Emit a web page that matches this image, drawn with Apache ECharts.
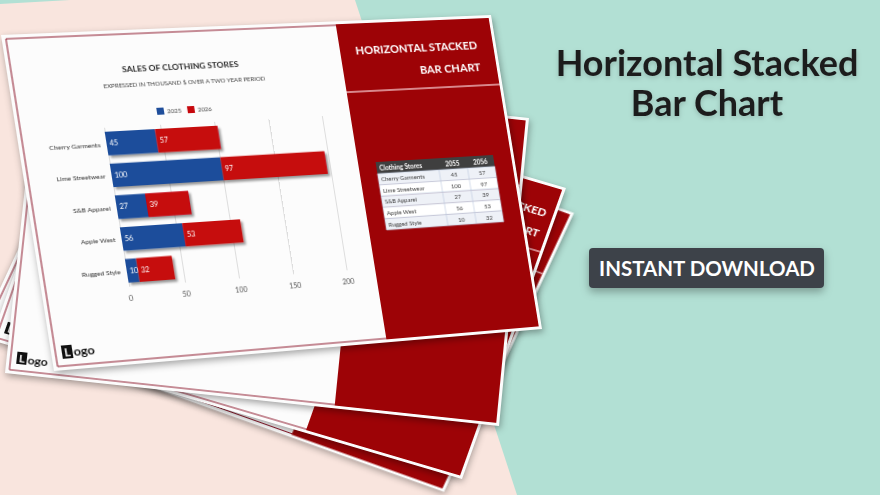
<!DOCTYPE html>
<html><head><meta charset="utf-8">
<script src="https://cdn.jsdelivr.net/npm/echarts@6/dist/echarts.min.js"></script>
<style>
html,body{margin:0;padding:0;width:880px;height:495px;overflow:hidden;background:#b2e0d4;}
#bg{position:absolute;left:0;top:0;width:880px;height:495px;}
.slide{position:absolute;left:0;top:0;width:490px;height:330px;transform-origin:0 0;background:#fcfcfc;box-shadow:1px 3px 7px rgba(0,0,0,0.35);}
</style></head><body>
<div id="bg"></div>
<div id="sD" class="slide"></div>
<div id="sC" class="slide"></div>
<div id="sB" class="slide"></div>
<div id="sA" class="slide"></div>
<script>
// ---- data ----
const categories = ['Cherry Garments', 'Lime Streetwear', 'S&B Apparel', 'Apple West', 'Rugged Style'];
const seriesNames = ['2025', '2026'];
const sales2025 = [45, 100, 27, 56, 10];
const sales2026 = [57, 97, 39, 53, 32];
const tableHeaders = ['Clothing Stores', '2055', '2056'];
const axisMin = 0, axisMax = 200, axisStep = 50;
const chartTitle = 'SALES OF CLOTHING STORES';
const chartSubtitle = 'EXPRESSED IN THOUSAND $ OVER A TWO YEAR PERIOD';
const panelTitle = ['HORIZONTAL STACKED', 'BAR CHART'];
const pageTitle = ['Horizontal Stacked', 'Bar Chart'];
const buttonText = 'INSTANT DOWNLOAD';

// ---- perspective helper (unit square -> quad) ----
function quadMatrix(q, W, H) {
  const [x0, y0] = q[0], [x1, y1] = q[1], [x2, y2] = q[2], [x3, y3] = q[3];
  const dx1 = x1 - x2, dx2 = x3 - x2, dx3 = x0 - x1 + x2 - x3;
  const dy1 = y1 - y2, dy2 = y3 - y2, dy3 = y0 - y1 + y2 - y3;
  const den = dx1 * dy2 - dx2 * dy1;
  const g = (dx3 * dy2 - dx2 * dy3) / den, h = (dx1 * dy3 - dx3 * dy1) / den;
  const a = x1 - x0 + g * x1, b = x3 - x0 + h * x3, c = x0;
  const d = y1 - y0 + g * y1, e = y3 - y0 + h * y3, f = y0;
  return 'matrix3d(' + [a / W, d / W, 0, g / W, b / H, e / H, 0, h / H, 0, 0, 1, 0, c, f, 0, 1].join(',') + ')';
}
const quads = {
  sD: [[112, 48], [574, 213], [444, 492], [-18, 327]],
  sC: [[93, 49], [566, 188], [462, 479], [-9, 340]],
  sB: [[38, 66], [529, 118], [499, 426], [5, 373]],
  sA: [[1, 35], [491, 15], [542, 329], [54, 371]]
};
Object.keys(quads).forEach(id => {
  document.getElementById(id).style.transform = quadMatrix(quads[id], 490, 330);
});

const FONT = 'Lato, "Noto Sans", sans-serif';
function txt(x, y, text, o) {
  o = o || {};
  return {
    type: 'text', x: x, y: y, z: o.z || 5,
    style: {
      text: text, fill: o.fill || '#333', fontSize: o.size || 8, fontWeight: o.weight || 'normal',
      fontFamily: o.family || FONT,
      textAlign: o.align || 'left', align: o.align || 'left',
      textVerticalAlign: 'middle', verticalAlign: 'middle'
    }
  };
}
function slideGraphics(withLogo, textRight) {
  const els = [
    { type: 'rect', z: 1, shape: { x: 4, y: 4, width: 482, height: 322 }, style: { fill: 'none', stroke: '#8e1b2e', lineWidth: 1 } },
    { type: 'rect', z: 2, shape: { x: 327, y: 3, width: 160, height: 324 }, style: { fill: '#9d0306' } },
    { type: 'line', z: 3, shape: { x1: 327, y1: 73, x2: 487, y2: 73 }, style: { stroke: 'rgba(255,225,230,0.8)', lineWidth: 1.5 } },
    txt(textRight, 31, panelTitle[0], { fill: '#fff', size: 11.5, weight: 'bold', align: 'right' }),
    txt(textRight, 54, panelTitle[1], { fill: '#fff', size: 11.5, weight: 'bold', align: 'right' })
  ];
  if (withLogo) {
    els.push({ type: 'rect', z: 3, shape: { x: 10, y: 306, width: 10, height: 13 }, style: { fill: '#111' } });
    els.push(txt(15, 312.5, 'L', { fill: '#fff', size: 11, weight: 'bold', align: 'center' }));
    els.push(txt(21, 313, 'ogo', { fill: '#111', size: 12, weight: 'bold' }));
  }
  return els;
}

// background slides
[['sD', false, 470], ['sC', true, 480], ['sB', true, 470]].forEach(s => {
  const c = echarts.init(document.getElementById(s[0]), null, { renderer: 'svg' });
  c.setOption({ animation: false, graphic: { elements: slideGraphics(s[1], s[2]) } });
});

// table on top slide
function tableGraphics() {
  const tX = 345, tY = 146, colW = [64, 30, 29], headH = 12, rowH = 11.6;
  const tW = colW[0] + colW[1] + colW[2];
  const els = [];
  els.push({ type: 'rect', z: 4, shape: { x: tX, y: tY, width: tW, height: headH }, style: { fill: '#3f3f3f' } });
  els.push(txt(tX + 3, tY + headH / 2, tableHeaders[0], { fill: '#fff', size: 6.5, weight: 'bold', z: 6 }));
  els.push(txt(tX + colW[0] + colW[1] / 2, tY + headH / 2, tableHeaders[1], { fill: '#fff', size: 6.5, weight: 'bold', align: 'center', z: 6 }));
  els.push(txt(tX + colW[0] + colW[1] + colW[2] / 2, tY + headH / 2, tableHeaders[2], { fill: '#fff', size: 6.5, weight: 'bold', align: 'center', z: 6 }));
  categories.forEach((cat, i) => {
    const y = tY + headH + i * rowH;
    els.push({ type: 'rect', z: 4, shape: { x: tX, y: y, width: tW, height: rowH }, style: { fill: i % 2 ? '#ffffff' : '#eef1f7', stroke: '#b9c7dd', lineWidth: 0.6 } });
    els.push(txt(tX + 3, y + rowH / 2, cat, { fill: '#3a3a3a', size: 6, z: 6 }));
    els.push(txt(tX + colW[0] + colW[1] / 2, y + rowH / 2, String(sales2025[i]), { fill: '#3a3a3a', size: 6, align: 'center', z: 6 }));
    els.push(txt(tX + colW[0] + colW[1] + colW[2] / 2, y + rowH / 2, String(sales2026[i]), { fill: '#3a3a3a', size: 6, align: 'center', z: 6 }));
  });
  const tH = headH + categories.length * rowH;
  els.push({ type: 'line', z: 5, shape: { x1: tX + colW[0], y1: tY + headH, x2: tX + colW[0], y2: tY + tH }, style: { stroke: '#b9c7dd', lineWidth: 0.6 } });
  els.push({ type: 'line', z: 5, shape: { x1: tX + colW[0] + colW[1], y1: tY + headH, x2: tX + colW[0] + colW[1], y2: tY + tH }, style: { stroke: '#b9c7dd', lineWidth: 0.6 } });
  return els;
}

// top slide with chart
const topChart = echarts.init(document.getElementById('sA'), null, { renderer: 'svg' });
topChart.setOption({
  animation: false,
  graphic: {
    elements: slideGraphics(true, 470).concat(tableGraphics()).concat([
      txt(166, 39, chartTitle, { fill: '#2b2b2b', size: 8.3, weight: 'bold', align: 'center' }),
      txt(168, 55, chartSubtitle, { fill: '#444', size: 6, align: 'center' })
    ])
  },
  legend: {
    data: seriesNames, left: 131, top: 74, itemWidth: 7, itemHeight: 7, itemGap: 6, icon: 'rect',
    textStyle: { fontSize: 6, color: '#444', fontFamily: FONT, padding: [0, 0, 0, -2] }
  },
  grid: { left: 83, right: 192, top: 96, bottom: 76, containLabel: false },
  xAxis: {
    type: 'value', min: axisMin, max: axisMax, interval: axisStep,
    axisLine: { show: false }, axisTick: { show: false },
    axisLabel: { fontSize: 7, color: '#555', margin: 8, fontFamily: FONT },
    splitLine: { show: true, lineStyle: { color: '#d4d4d4', width: 0.8 } }
  },
  yAxis: {
    type: 'category', data: categories, inverse: true,
    axisLine: { show: false }, axisTick: { show: false },
    axisLabel: { fontSize: 6.5, color: '#333', margin: 6, fontFamily: FONT }
  },
  series: [
    {
      name: seriesNames[0], type: 'bar', stack: 'total', data: sales2025, barWidth: '74%',
      itemStyle: { color: '#1f4e9b', shadowColor: 'rgba(0,0,0,0.4)', shadowBlur: 2, shadowOffsetX: 2, shadowOffsetY: 2.5 },
      label: { show: true, position: 'insideLeft', color: '#fff', fontSize: 7, distance: 3, fontFamily: FONT }
    },
    {
      name: seriesNames[1], type: 'bar', stack: 'total', data: sales2026, barWidth: '74%',
      itemStyle: { color: '#c6070c', shadowColor: 'rgba(0,0,0,0.4)', shadowBlur: 2, shadowOffsetX: 2, shadowOffsetY: 2.5 },
      label: { show: true, position: 'insideLeft', color: '#fff', fontSize: 7, distance: 3, fontFamily: FONT }
    }
  ]
});

// page background, heading and button
const bgChart = echarts.init(document.getElementById('bg'), null, { renderer: 'svg' });
const headStyle = {
  fill: '#1f1f1f', fontSize: 36, fontWeight: 'bold', fontFamily: FONT,
  textAlign: 'center', align: 'center', textVerticalAlign: 'middle', verticalAlign: 'middle',
  textShadowColor: 'rgba(0,0,0,0.18)', textShadowBlur: 5, textShadowOffsetY: 2
};
bgChart.setOption({
  animation: false,
  graphic: {
    elements: [
      { type: 'rect', shape: { x: 0, y: 0, width: 880, height: 495 }, style: { fill: '#b2e0d4' } },
      { type: 'polygon', shape: { points: [[0, 4], [70, 0], [355, 0], [517, 495], [0, 495]] }, style: { fill: '#f9e5de' } },
      { type: 'text', x: 707, y: 62, style: Object.assign({ text: pageTitle[0] }, headStyle) },
      { type: 'text', x: 707, y: 102, style: Object.assign({ text: pageTitle[1] }, headStyle) },
      {
        type: 'rect', shape: { x: 589, y: 248, width: 235, height: 40, r: 4 },
        style: { fill: '#3c4248', shadowColor: 'rgba(0,0,0,0.3)', shadowBlur: 8, shadowOffsetY: 4 }
      },
      {
        type: 'text', x: 707, y: 268, style: {
          text: buttonText, fill: '#ffffff', fontSize: 20.5, fontWeight: 'bold', fontFamily: FONT,
          textAlign: 'center', align: 'center', textVerticalAlign: 'middle', verticalAlign: 'middle'
        }
      }
    ]
  }
});
</script>
</body></html>
